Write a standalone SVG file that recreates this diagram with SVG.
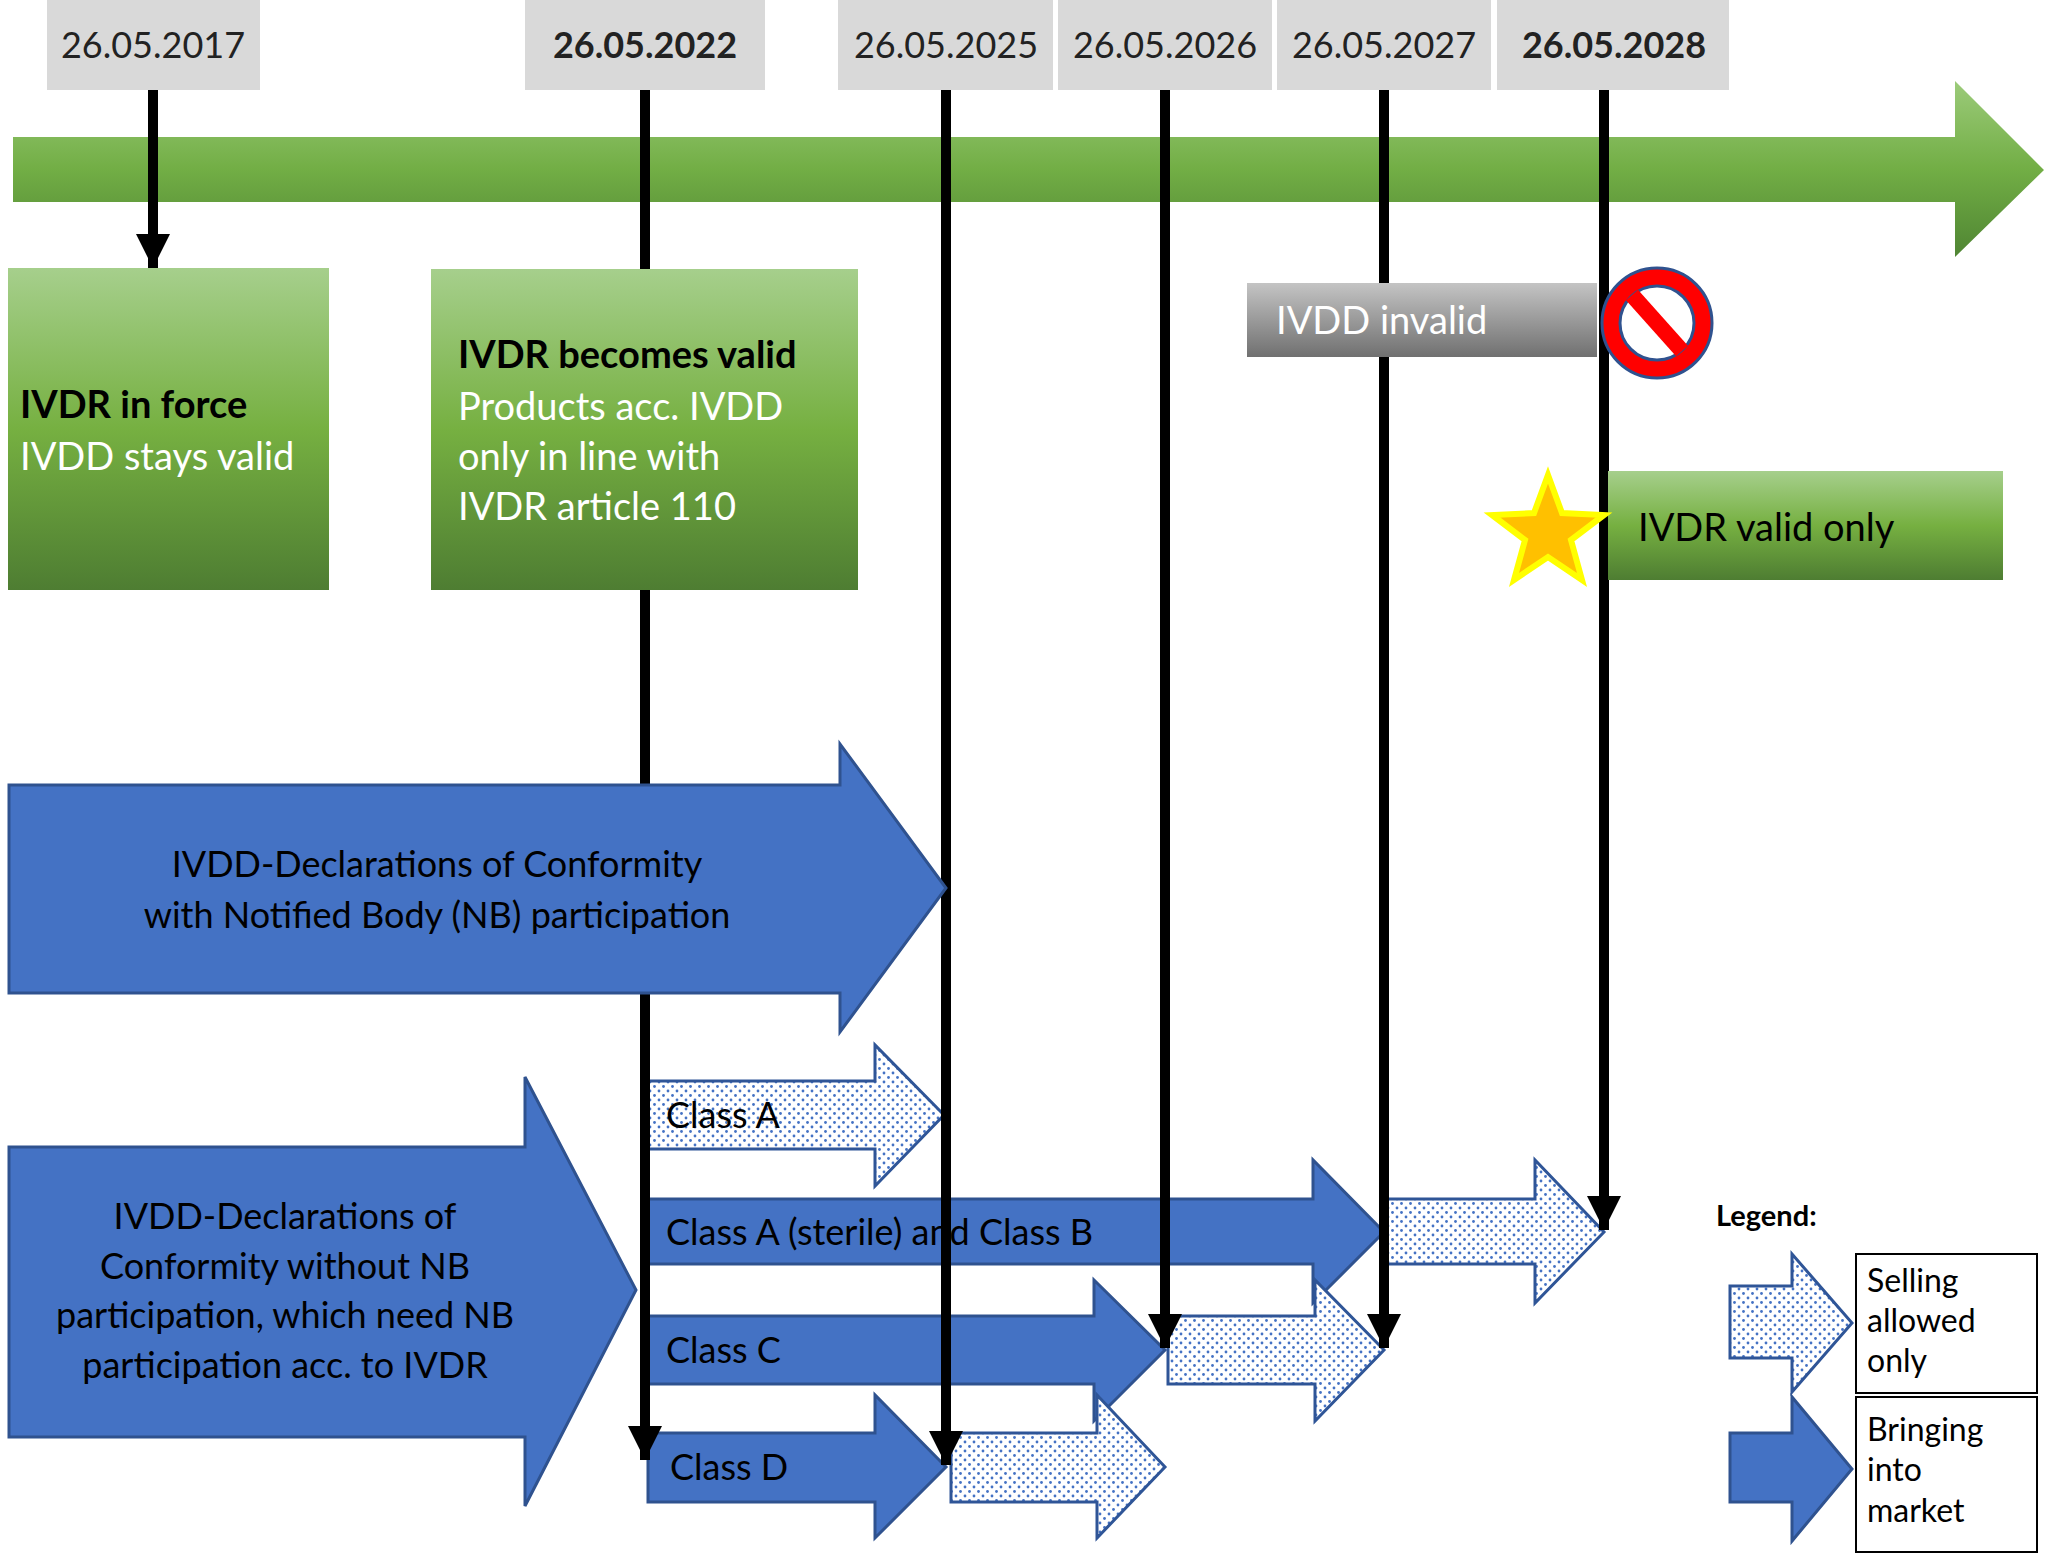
<svg xmlns="http://www.w3.org/2000/svg" width="2048" height="1558" viewBox="0 0 2048 1558">
<defs>
<linearGradient id="gG" x1="0" y1="0" x2="0" y2="1"><stop offset="0" stop-color="#A6CF8C"/><stop offset="0.5" stop-color="#76B041"/><stop offset="1" stop-color="#4E7D32"/></linearGradient>
<linearGradient id="gT" x1="0" y1="0" x2="0" y2="1"><stop offset="0" stop-color="#9CCB7A"/><stop offset="0.5" stop-color="#72AE45"/><stop offset="1" stop-color="#4F8533"/></linearGradient>
<linearGradient id="gGray" x1="0" y1="0" x2="0" y2="1"><stop offset="0" stop-color="#C4C4C4"/><stop offset="1" stop-color="#707070"/></linearGradient>
<pattern id="dots" width="9" height="9" patternUnits="userSpaceOnUse"><rect width="9" height="9" fill="#fff"/><circle cx="2" cy="2" r="1.4" fill="#4472C4"/><circle cx="6.5" cy="6.5" r="1.4" fill="#4472C4"/></pattern>
<marker id="ah" viewBox="0 0 10 10" refX="10" refY="5" markerWidth="3.4" markerHeight="3.4" orient="auto"><path d="M0,0 L10,5 L0,10 z" fill="#000"/></marker>
<style>
text{font-family:Lato,"Liberation Sans",sans-serif;}
.d{font-size:36px;fill:#222;text-anchor:middle}
.b{font-weight:bold}
.t{font-size:38px}
.c{font-size:36px;fill:#000}
.blue{fill:#4472C4;stroke:#2F528F;stroke-width:3}
.dot{fill:url(#dots);stroke:#2F5597;stroke-width:3}
.ln{stroke:#000;stroke-width:10;fill:none}
</style>
</defs>
<rect width="2048" height="1558" fill="#fff"/>
<g id="dates">
<rect x="47" y="0" width="213" height="90" fill="#D9D9D9"/><text class="d" x="153" y="58">26.05.2017</text>
<rect x="525" y="0" width="240" height="90" fill="#D9D9D9"/><text class="d b" x="645" y="58">26.05.2022</text>
<rect x="838" y="0" width="215" height="90" fill="#D9D9D9"/><text class="d" x="946" y="58">26.05.2025</text>
<rect x="1058" y="0" width="214" height="90" fill="#D9D9D9"/><text class="d" x="1165" y="58">26.05.2026</text>
<rect x="1277" y="0" width="214" height="90" fill="#D9D9D9"/><text class="d" x="1384" y="58">26.05.2027</text>
<rect x="1497" y="0" width="232" height="90" fill="#D9D9D9"/><text class="d b" x="1614" y="58">26.05.2028</text>
</g>
<g id="timeline"><path d="M13,137 H1955 V81 L2044,170 L1955,257 V202 H13 Z" fill="url(#gT)"/></g>
<g id="classA"><path class="dot" d="M644,1081 H875 V1045 L944,1115 L875,1186 V1149 H644 Z"/><text class="c" x="666" y="1128">Class A</text></g>
<g id="classAB"><path class="blue" d="M644,1199 H1313 V1160 L1384,1232 L1313,1303 V1264 H644 Z"/><text class="c" x="666" y="1245">Class A (sterile) and Class B</text>
<path class="dot" d="M1387,1199 H1535 V1160 L1604,1232 L1535,1303 V1264 H1387 Z"/></g>
<g id="classC"><path class="blue" d="M644,1316 H1094 V1280 L1165,1350 L1094,1421 V1384 H644 Z"/><text class="c" x="666" y="1363">Class C</text>
<path class="dot" d="M1168,1316 H1315 V1280 L1384,1350 L1315,1421 V1384 H1168 Z"/></g>
<g id="classD"><path class="blue" d="M648,1433 H875 V1395 L946,1467 L875,1538 V1502 H648 Z"/><text class="c" x="670" y="1480">Class D</text>
<path class="dot" d="M951,1433 H1097 V1395 L1165,1467 L1097,1538 V1502 H951 Z"/></g>
<g id="connectors">
<line class="ln" x1="153" y1="90" x2="153" y2="268" marker-end="url(#ah)"/>
<line class="ln" x1="645" y1="90" x2="645" y2="1460" marker-end="url(#ah)"/>
<line class="ln" x1="946" y1="90" x2="946" y2="1465" marker-end="url(#ah)"/>
<line class="ln" x1="1165" y1="90" x2="1165" y2="1348" marker-end="url(#ah)"/>
<line class="ln" x1="1384" y1="90" x2="1384" y2="1348" marker-end="url(#ah)"/>
<line class="ln" x1="1604" y1="90" x2="1604" y2="1230" marker-end="url(#ah)"/>
</g>
<g id="box1"><rect x="8" y="268" width="321" height="322" fill="url(#gG)"/>
<text class="t b" x="20" y="418" fill="#000">IVDR in force</text><text class="t" x="20" y="470" fill="#fff">IVDD stays valid</text></g>
<g id="box2"><rect x="431" y="269" width="427" height="321" fill="url(#gG)"/>
<text class="t b" x="458" y="368" fill="#000">IVDR becomes valid</text>
<text class="t" fill="#fff"><tspan x="458" y="420">Products acc. IVDD</tspan><tspan x="458" y="470">only in line with</tspan><tspan x="458" y="520">IVDR article 110</tspan></text></g>
<g id="invalid"><rect x="1247" y="283" width="350" height="74" fill="url(#gGray)"/><text class="t" x="1276" y="334" fill="#fff">IVDD invalid</text>
<circle cx="1657" cy="323" r="46" fill="#fff" stroke="#FF0000" stroke-width="18"/>
<circle cx="1657" cy="323" r="55" fill="none" stroke="#2F528F" stroke-width="3"/>
<circle cx="1657" cy="323" r="37" fill="none" stroke="#2F528F" stroke-width="3"/>
<line x1="1632" y1="295" x2="1682" y2="351" stroke="#FF0000" stroke-width="16"/></g>
<g id="validonly"><rect x="1608" y="471" width="395" height="109" fill="url(#gG)"/><text class="t" x="1638" y="541" fill="#000">IVDR valid only</text>
<polygon points="1548,475 1562,513 1604,515 1571,540 1582,580 1548,557 1514,580 1525,540 1492,515 1534,513" fill="#FFC000" stroke="#FFFF00" stroke-width="6" stroke-linejoin="miter"/></g>
<g id="nb"><path class="blue" d="M9,785 H840 V744 L946,888 L840,1032 V993 H9 Z"/>
<text class="c" text-anchor="middle"><tspan x="437" y="877">IVDD-Declarations of Conformity</tspan><tspan x="437" y="928">with Notified Body (NB) participation</tspan></text></g>
<g id="nonb"><path class="blue" d="M9,1147 H525 V1077 L636,1290 L525,1506 V1437 H9 Z"/>
<text class="c" text-anchor="middle"><tspan x="285" y="1229">IVDD-Declarations of</tspan><tspan x="285" y="1279">Conformity without NB</tspan><tspan x="285" y="1328">participation, which need NB</tspan><tspan x="285" y="1378">participation acc. to IVDR</tspan></text></g>
<g id="legend"><text x="1716" y="1226" font-size="29" font-weight="bold">Legend:</text>
<path class="dot" d="M1730,1286 H1792 V1254 L1852,1323 L1792,1392 V1358 H1730 Z"/>
<rect x="1856" y="1254" width="181" height="139" fill="#fff" stroke="#000" stroke-width="2"/>
<text font-size="32"><tspan x="1867" y="1292">Selling</tspan><tspan x="1867" y="1332">allowed</tspan><tspan x="1867" y="1372">only</tspan></text>
<path class="blue" d="M1730,1433 H1792 V1397 L1852,1469 L1792,1541 V1502 H1730 Z"/>
<rect x="1856" y="1397" width="181" height="155" fill="#fff" stroke="#000" stroke-width="2"/>
<text font-size="32"><tspan x="1867" y="1441">Bringing</tspan><tspan x="1867" y="1481">into</tspan><tspan x="1867" y="1522">market</tspan></text></g>
</svg>
